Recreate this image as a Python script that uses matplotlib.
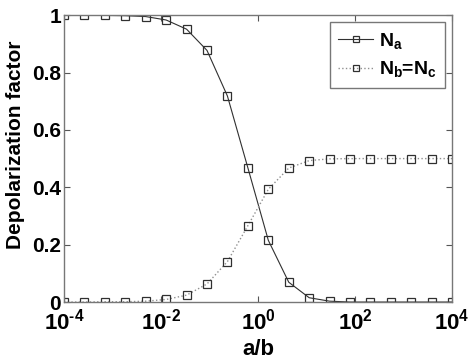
import matplotlib
matplotlib.use("Agg")
import matplotlib.pyplot as plt
import numpy as np

plt.rcParams['font.family'] = ['Liberation Sans', 'DejaVu Sans']
plt.rcParams['font.weight'] = 'bold'
plt.rcParams['mathtext.fontset'] = 'custom'
plt.rcParams['mathtext.rm'] = 'Liberation Sans:bold'
plt.rcParams['mathtext.it'] = 'Liberation Sans:bold'
plt.rcParams['mathtext.bf'] = 'Liberation Sans:bold'

# aspect ratio a/b, 20 samples from 1e-4 to 1e4
ratio_exp = [-4.0, -3.579, -3.158, -2.737, -2.316, -1.895, -1.474, -1.053, -0.632, -0.211,
             0.211, 0.632, 1.053, 1.474, 1.895, 2.316, 2.737, 3.158, 3.579, 4.0]
Na = [1.0, 1.0, 0.999, 0.998, 0.995, 0.983, 0.951, 0.877, 0.718, 0.468,
      0.215, 0.069, 0.015, 0.003, 0.0, 0.0, 0.0, 0.0, 0.0, 0.0]
Nb = [0.0, 0.0, 0.001, 0.001, 0.003, 0.009, 0.024, 0.063, 0.141, 0.266,
      0.393, 0.467, 0.493, 0.499, 0.5, 0.5, 0.5, 0.5, 0.5, 0.5]
xticks_exp = [-4, -2, 0, 2, 4]
yticks = [0, 0.2, 0.4, 0.6, 0.8, 1]
ytick_labels = ['0', '0.2', '0.4', '0.6', '0.8', '1']

x = 10.0 ** np.array(ratio_exp)

fig = plt.figure(figsize=(4.74, 3.6), dpi=100)
ax = fig.add_axes([0.135, 0.161, 0.819, 0.797])

ax.plot(x, Na, '-', color='#303030', lw=0.8, marker='s', ms=6.3,
        mfc='none', mec='#303030', mew=0.9, label='$N_a$')
ax.plot(x, Nb, ':', color='#909090', lw=1.0, marker='s', ms=6.3,
        mfc='none', mec='#303030', mew=0.9, label='$N_b$=$N_c$')

ax.set_xscale('log')
ax.set_xlim(1e-4, 1e4)
ax.set_ylim(0, 1)
ax.set_xticks([10.0 ** e for e in xticks_exp])
ax.set_xticklabels([r'$10^{\text{-}%d}$' % -e if e < 0 else r'$10^{%d}$' % e
                    for e in xticks_exp])
ax.minorticks_off()
ax.set_yticks(yticks)
ax.set_yticklabels(ytick_labels)
ax.tick_params(direction='in', top=True, right=True, length=4, width=0.8,
               color='#555555', labelsize=15, pad=2)
ax.tick_params(axis='x', pad=5, labelsize=16)
for s in ax.spines.values():
    s.set_color('#777777')
    s.set_linewidth(1.0)

ax.set_xlabel('a/b', fontsize=16, fontweight='bold', labelpad=3)
ax.set_ylabel('Depolarization factor', fontsize=15, fontweight='bold')
ax.yaxis.set_label_coords(-0.10, 0.547)

leg = ax.legend(loc='upper right', fontsize=14, fancybox=False, framealpha=1,
                edgecolor='#777777', handlelength=1.8, markerscale=0.75,
                borderaxespad=0.35, labelspacing=0.45, handletextpad=0.3,
                borderpad=0.45)
leg.get_frame().set_linewidth(1.0)

fig.savefig('out.png', dpi=100)
